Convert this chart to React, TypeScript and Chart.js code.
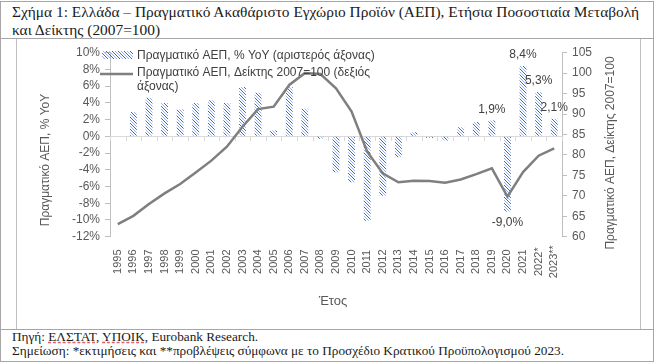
import React, { useEffect, useRef } from "react";
import { Chart, registerables } from "chart.js";

Chart.register(...registerables);

const years = [
  "1995", "1996", "1997", "1998", "1999", "2000", "2001", "2002", "2003", "2004",
  "2005", "2006", "2007", "2008", "2009", "2010", "2011", "2012", "2013", "2014",
  "2015", "2016", "2017", "2018", "2019", "2020", "2021", "2022*", "2023**",
];

// Real GDP, % YoY (left axis)
const gdpYoY: (number | null)[] = [
  null, 2.9, 4.6, 4.0, 3.2, 4.0, 4.3, 4.0, 5.9, 5.2,
  0.7, 5.9, 3.3, -0.3, -4.3, -5.5, -10.1, -7.1, -2.5, 0.5,
  -0.2, -0.5, 1.1, 1.7, 1.9, -9.0, 8.4, 5.3, 2.1,
];

// Real GDP index, 2007=100 (right axis)
const gdpIndex: number[] = [
  63.1, 65.1, 68.0, 70.6, 72.9, 75.7, 78.6, 82.0, 86.9, 91.2,
  91.8, 97.1, 100.0, 99.8, 96.3, 90.6, 80.8, 75.5, 73.3, 73.7,
  73.6, 73.2, 74.0, 75.3, 76.7, 69.8, 75.8, 79.8, 81.6,
];

const labelledYears = ["2019", "2020", "2021", "2022*", "2023**"];

const leftTicks = { min: -12, max: 10, step: 2 };
const rightTicks = { min: 60, max: 105, step: 5 };

const seriesNames = [
  "Πραγματικό ΑΕΠ, % YoY (αριστερός άξονας)",
  "Πραγματικό ΑΕΠ, Δείκτης 2007=100 (δεξιός",
  "άξονας)",
];
const leftTitle = "Πραγματικό ΑΕΠ, % YoY";
const rightTitle = "Πραγματικό ΑΕΠ, Δείκτης 2007=100";
const xTitle = "Έτος";

const SANS = '"Liberation Sans", Arial, sans-serif';
const TXT = "#595959";
const AXIS = "#bfbfbf";
const LINE = "#7f7f7f";

function makeHatch(): CanvasPattern | string {
  const c = document.createElement("canvas");
  c.width = 6;
  c.height = 6;
  const g = c.getContext("2d");
  if (!g) return "#4472c4";
  g.clearRect(0, 0, 6, 6);
  for (let i = 0; i < 6; i++) {
    g.fillStyle = "#3b64d0";
    g.fillRect(i, i, 1, 1);
    g.fillStyle = "#97b1ea";
    g.fillRect(i, (i + 3) % 6, 1, 1);
  }
  return g.createPattern(c, "repeat") || "#4472c4";
}

const fmtPct = (v: number) => v.toFixed(1).replace(".", ",") + "%";

export default function App() {
  const ref = useRef<HTMLCanvasElement>(null);

  useEffect(() => {
    if (!ref.current) return;
    const hatch = makeHatch();

    const custom = {
      id: "custom",
      beforeDatasetsDraw(chart: any) {
        const { ctx, chartArea } = chart;
        const y0 = chart.scales.y.getPixelForValue(0);
        const xs = chart.scales.x;
        ctx.save();
        ctx.strokeStyle = "#d9d9d9";
        ctx.lineWidth = 1;
        ctx.beginPath();
        ctx.moveTo(chartArea.left, Math.round(y0) + 0.5);
        ctx.lineTo(chartArea.right, Math.round(y0) + 0.5);
        const n = years.length;
        const w = (chartArea.right - chartArea.left) / n;
        for (let i = 0; i <= n; i++) {
          const x = Math.round(xs.left + i * w) + 0.5;
          ctx.moveTo(x, Math.round(y0) + 0.5);
          ctx.lineTo(x, Math.round(y0) + 5);
        }
        ctx.stroke();
        ctx.restore();
      },
      afterDraw(chart: any) {
        const { ctx, chartArea } = chart;
        const xs = chart.scales.x;
        ctx.save();
        // x labels
        ctx.fillStyle = TXT;
        ctx.font = `11px ${SANS}`;
        ctx.textAlign = "center";
        ctx.textBaseline = "middle";
        years.forEach((yr, i) => {
          const x = xs.getPixelForValue(i);
          ctx.save();
          ctx.translate(x, chartArea.bottom + 25);
          ctx.rotate(-Math.PI / 2);
          ctx.fillText(yr, 0, 0);
          ctx.restore();
        });
        // axis titles
        ctx.font = `12px ${SANS}`;
        ctx.save();
        ctx.translate(30, 121);
        ctx.rotate(-Math.PI / 2);
        ctx.fillText(leftTitle, 0, 0);
        ctx.restore();
        ctx.save();
        ctx.translate(595, 114);
        ctx.rotate(-Math.PI / 2);
        ctx.fillText(rightTitle, 0, 0);
        ctx.restore();
        ctx.font = `13px ${SANS}`;
        ctx.fillText(xTitle, 317, 262.5);

        // data labels
        ctx.font = `12px ${SANS}`;
        ctx.fillStyle = "#404040";
        const meta = chart.getDatasetMeta(0);
        labelledYears.forEach((yr) => {
          const i = years.indexOf(yr);
          const v = gdpYoY[i];
          const el = meta.data[i];
          if (v == null || !el) return;
          const y = v >= 0 ? el.y - 11 : el.y + 11;
          ctx.fillText(fmtPct(v), el.x, y);
        });

        // legend
        ctx.fillStyle = hatch as any;
        ctx.fillRect(86, 12, 31, 8);
        ctx.strokeStyle = LINE;
        ctx.lineWidth = 2.5;
        ctx.beginPath();
        ctx.moveTo(84, 35);
        ctx.lineTo(117, 35);
        ctx.stroke();
        ctx.fillStyle = "#404040";
        ctx.textAlign = "left";
        ctx.fillText(seriesNames[0], 121, 16.5);
        ctx.fillText(seriesNames[1], 121, 34);
        ctx.fillText(seriesNames[2], 121, 48);
        ctx.restore();
      },
    };

    const chart = new Chart(ref.current, {
      type: "bar",
      data: {
        labels: years,
        datasets: [
          {
            type: "bar",
            label: seriesNames[0],
            data: gdpYoY,
            backgroundColor: hatch as any,
            borderWidth: 0,
            yAxisID: "y",
            order: 2,
            barPercentage: 0.44,
            categoryPercentage: 1,
          },
          {
            type: "line",
            label: seriesNames[1] + " " + seriesNames[2],
            data: gdpIndex,
            borderColor: LINE,
            borderWidth: 2.5,
            pointRadius: 0,
            tension: 0,
            yAxisID: "y1",
            order: 1,
          },
        ],
      } as any,
      options: {
        responsive: false,
        animation: false,
        layout: { padding: { top: 13.7, left: 0, right: 0, bottom: 0 } },
        plugins: { legend: { display: false }, tooltip: { enabled: false } },
        scales: {
          x: {
            type: "category",
            offset: true,
            grid: { display: false },
            border: { display: false },
            ticks: { display: false },
            afterFit: (s: any) => {
              s.height = 92.3;
            },
          },
          y: {
            position: "left",
            min: leftTicks.min,
            max: leftTicks.max,
            ticks: {
              stepSize: leftTicks.step,
              autoSkip: false,
              color: TXT,
              font: { family: SANS, size: 12 },
              padding: 5,
              callback: (v: any) => `${v}%`,
            },
            grid: { drawOnChartArea: false, tickLength: 5, color: AXIS },
            border: { display: true, color: AXIS },
            afterFit: (s: any) => {
              s.width = 94;
            },
          },
          y1: {
            position: "right",
            min: rightTicks.min,
            max: rightTicks.max,
            ticks: {
              stepSize: rightTicks.step,
              autoSkip: false,
              color: TXT,
              font: { family: SANS, size: 12 },
              padding: 5,
            },
            grid: { drawOnChartArea: false, tickLength: 5, color: AXIS },
            border: { display: true, color: AXIS },
            afterFit: (s: any) => {
              s.width = 79;
            },
          },
        },
      } as any,
      plugins: [custom as any],
    });
    return () => chart.destroy();
  }, []);

  const line = (style: React.CSSProperties) => (
    <div style={{ position: "absolute", background: "#a6a6a6", ...style }} />
  );

  return (
    <div
      style={{
        position: "fixed",
        left: 0,
        top: 0,
        width: 654,
        height: 362,
        background: "#fff",
        overflow: "hidden",
        fontFamily: '"Liberation Serif", "Times New Roman", serif',
        color: "#1a1a1a",
      }}
    >
      {line({ left: 0, top: 1, width: 654, height: 1 })}
      {line({ left: 0, top: 1, width: 1, height: 361 })}
      {line({ left: 653, top: 1, width: 1, height: 361 })}
      {line({ left: 0, top: 361, width: 654, height: 1 })}
      {line({ left: 0, top: 38, width: 654, height: 1 })}
      {line({ left: 0, top: 329, width: 654, height: 1 })}
      {line({ left: 16, top: 39, width: 1, height: 290, background: "#bfbfbf" })}
      {line({ left: 640, top: 39, width: 1, height: 290, background: "#bfbfbf" })}
      <div
        style={{
          position: "absolute",
          left: 12,
          top: 3,
          fontSize: 15.4,
          lineHeight: "18px",
          whiteSpace: "nowrap",
        }}
      >
        Σχήμα 1: Ελλάδα – Πραγματικό Ακαθάριστο Εγχώριο Προϊόν (ΑΕΠ), Ετήσια Ποσοστιαία Μεταβολή
        <br />
        και Δείκτης (2007=100)
      </div>
      <div style={{ position: "absolute", left: 16, top: 39, width: 625, height: 290 }}>
        <canvas ref={ref} width={625} height={290} style={{ width: 625, height: 290, display: "block" }} />
      </div>
      <div
        style={{
          position: "absolute",
          left: 12,
          top: 330,
          fontSize: 13.25,
          lineHeight: "14px",
          whiteSpace: "nowrap",
        }}
      >
        Πηγή:{" "}
        <span style={{ textDecoration: "underline dashed #e06060" }}>ΕΛΣΤΑΤ</span>,{" "}
        <span style={{ textDecoration: "underline dashed #e06060" }}>ΥΠΟΙΚ</span>, Eurobank Research.
        <br />
        Σημείωση: *εκτιμήσεις και **προβλέψεις σύμφωνα με το Προσχέδιο Κρατικού Προϋπολογισμού 2023.
      </div>
    </div>
  );
}
